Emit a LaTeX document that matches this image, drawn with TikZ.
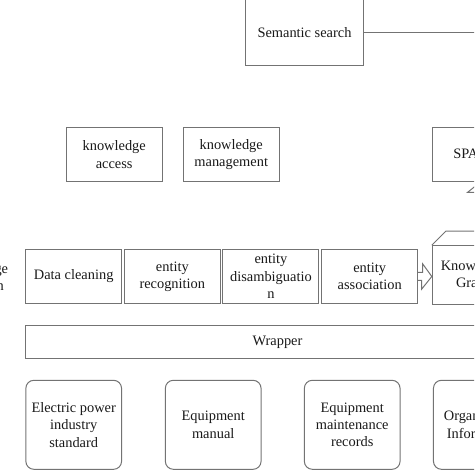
\documentclass[tikz,border=0pt]{standalone}
\usepackage{fontspec}
\setmainfont{Liberation Serif}
\usepackage{tikz}
\usetikzlibrary{calc}
\usetikzlibrary{positioning}

\tikzset{
    box/.style={draw=black!55, line width=0.5pt, align=center, inner sep=1pt, text=black!90, font=\fontsize{7.2}{8.7}\selectfont},
    rowbox/.style={box, minimum width=48pt, minimum height=27.2pt},
    roundbox/.style={box, rounded corners=4pt, minimum width=47.85pt, minimum height=44.5pt},
    sidetext/.style={align=center, inner sep=0pt, text=black!90, font=\fontsize{7.2}{8.3}\selectfont},
    edge/.style={draw=black!55, line width=0.5pt}
}

\begin{document}
\begin{tikzpicture}[x=0.5pt, y=-0.5pt]
    \useasboundingbox (0,0) rectangle (474,474);
    \clip (0,0) rectangle (474,474);
    % application layer
    \node[box, minimum width=58.8pt, minimum height=33.5pt] (search) at (304.5,32.5) {Semantic search};
    \coordinate (searchEnd) at (490,32.5);
    \draw[edge] (search.east) -- (searchEnd);
    \node[box, minimum width=47.85pt, minimum height=27.2pt] (access) at (114.2,154.5) {knowledge\\access};
    \node[box, minimum width=47.85pt, minimum height=27.2pt] (manage) at (231.2,154.5) {knowledge\\management};
    \node[box, minimum width=47.85pt, minimum height=27.2pt] (sparql) at (480.2,154.5) {SPARQL};
    % extraction row
    \node[sidetext, anchor=east] (extract) at (8.5,277) {Knowledge\\extraction};
    \foreach \x/\name/\txt in {73.7/clean/{Data cleaning}, 172.3/recog/{entity\\recognition}, 270.9/disamb/{entity\\disambiguatio\\n}, 369.7/assoc/{entity\\association}}
    \node[rowbox] (\name) at (\x,276.5) {\txt};
    % knowledge graph as a cuboid
    \node[box, minimum width=41.7pt, minimum height=29.65pt] (kg) at (474,275.3) {Knowledge\\Graph};
    \draw[edge] (kg.north west) -- ++(14,-14) -- ++(83.4,0) -- ++(0,59.3) -- (kg.south east);
    \draw[edge] ($(kg.north east)+(14,-14)$) -- (kg.north east);
    \coordinate (tipR) at (kg.west |- assoc.east);
    \draw[edge] ($(assoc.east)+(0,-4)$) -- ++(4.4,0) -- ++(0,-8.7) -- (tipR) -- ++(-10.2,12.7) -- ++(0,-8.7) -- ($(assoc.east)+(0,4)$);
    \draw[edge] (sparql.south) -- ++(-12.7,10.2) -- ++(8.7,0) -- ++(0,39.8) -- ++(8,0) -- ++(0,-39.8) -- ++(8.7,0) -- cycle;
    % wrapper
    \node[box, minimum width=251.8pt, minimum height=16.7pt] (wrapper) at (277.5,342) {Wrapper};
    % data sources
    \foreach \x/\name/\txt in {73.7/standard/{Electric power\\industry\\standard}, 213.2/manual/{Equipment\\manual}, 352.2/records/{Equipment\\maintenance\\records}, 481.3/orginfo/{Organization\\Information}}
    \node[roundbox] (\name) at (\x,424.8) {\txt};
\end{tikzpicture}
\end{document}
